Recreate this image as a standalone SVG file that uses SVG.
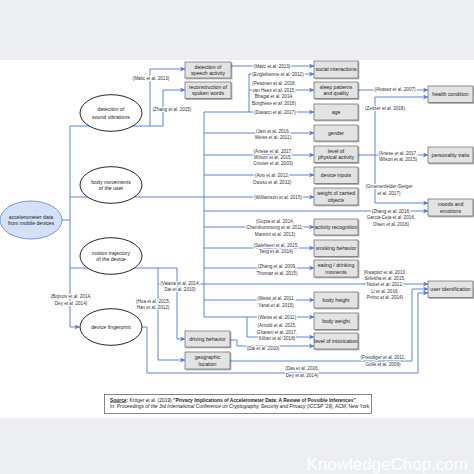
<svg xmlns="http://www.w3.org/2000/svg" width="474" height="474" viewBox="0 0 474 474">
<style>
.e{fill:none;stroke:#5b84e2;stroke-width:1}
.bx{fill:#e3e3e3;stroke:#666;stroke-width:0.7}
.el{fill:#fff;stroke:#111;stroke-width:0.9}
.l{font-family:"Liberation Sans",Arial,sans-serif;font-size:4.6px;fill:#333;text-anchor:middle;stroke:#fff;stroke-width:2.2px;paint-order:stroke;stroke-linejoin:round}
.t{font-family:"Liberation Sans",Arial,sans-serif;font-size:5.2px;fill:#222;text-anchor:middle}
.s{font-family:"Liberation Sans",Arial,sans-serif;font-size:4.9px;fill:#222}
</style>
<defs>
<marker id="a" viewBox="0 0 10 10" refX="10" refY="5" markerWidth="6" markerHeight="5" markerUnits="userSpaceOnUse" orient="auto"><path d="M0,0 L10,5 L0,10 L3,5 z" fill="#4a76e0"/></marker>
<filter id="sh" x="-10%" y="-10%" width="130%" height="140%"><feDropShadow dx="1" dy="1" stdDeviation="0.4" flood-color="#000" flood-opacity="0.35"/></filter>
</defs>
<rect x="0" y="0" width="474" height="474" fill="#eceef2"/>
<rect x="0" y="60" width="474" height="358" fill="#fff"/>
<text x="468" y="470" font-family="Liberation Sans,Arial,sans-serif" font-size="17" fill="#fff" text-anchor="end">KnowledgeChop.com</text>

<g id="connectors">
<path class="e" d="M62,220 H70"/>
<path class="e" d="M70,126 V327 H79.5" marker-end="url(#a)"/>
<path class="e" d="M70,126 H163"/>
<path class="e" d="M150,126 V69 H185" marker-end="url(#a)"/>
<path class="e" d="M163,126 V90 H185" marker-end="url(#a)"/>
<path class="e" d="M231,66 H314" marker-end="url(#a)"/>
<path class="e" d="M249,112 V74 H314" marker-end="url(#a)"/>
<path class="e" d="M249,90 H314" marker-end="url(#a)"/>
<path class="e" d="M70,197 H314" marker-end="url(#a)"/>
<path class="e" d="M204,112 V317"/>
<path class="e" d="M204,112 H314" marker-end="url(#a)"/>
<path class="e" d="M204,133 H314" marker-end="url(#a)"/>
<path class="e" d="M204,155 H314" marker-end="url(#a)"/>
<path class="e" d="M204,175 H314" marker-end="url(#a)"/>
<path class="e" d="M204,211 H428" marker-end="url(#a)"/>
<path class="e" d="M204,227 H314" marker-end="url(#a)"/>
<path class="e" d="M204,248 H314" marker-end="url(#a)"/>
<path class="e" d="M204,268 H314" marker-end="url(#a)"/>
<path class="e" d="M204,300 H314" marker-end="url(#a)"/>
<path class="e" d="M204,317 H314" marker-end="url(#a)"/>
<path class="e" d="M247,317 V337 H314" marker-end="url(#a)"/>
<path class="e" d="M70,268 H177 V339 H185" marker-end="url(#a)"/>
<path class="e" d="M158,268 V360 H185" marker-end="url(#a)"/>
<path class="e" d="M158,284 H428" marker-end="url(#a)"/>
<path class="e" d="M230,340 H237 V346 H314" marker-end="url(#a)"/>
<path class="e" d="M230,361 H412 V289 H428" marker-end="url(#a)"/>
<path class="e" d="M142,327 H147 V373 H418 V293 H428" marker-end="url(#a)"/>
<path class="e" d="M358,90 H428" marker-end="url(#a)"/>
<path class="e" d="M358,155 H428" marker-end="url(#a)"/>
<path class="e" d="M375,155 V97 H428" marker-end="url(#a)"/>
<path class="e" d="M375,155 V203 H428" marker-end="url(#a)"/>

<text class="l" x="151" y="79.5">(Matic et al. 2013)</text>
<text class="l" x="172" y="110.5">(Zhang et al. 2015)</text>
<text class="l" x="272" y="67.5">(Matic et al. 2013)</text>
<text class="l" x="278" y="75.8">(Englebienne et al. 2012)</text>
<text class="l" x="274" y="85"><tspan x="274">(Pesonen et al. 2018,</tspan><tspan x="274" dy="6.7">van Hees et al. 2015,</tspan><tspan x="274" dy="6.7">Bhagat et al. 2014,</tspan><tspan x="274" dy="6.7">Borghese et al. 2018)</tspan></text>
<text class="l" x="275" y="114">(Davarci et al. 2017)</text>
<text class="l" x="273" y="132.8"><tspan x="273">(Jain et al. 2016,</tspan><tspan x="273" dy="6.6">Weiss et al. 2011)</tspan></text>
<text class="l" x="273" y="152.5"><tspan x="273">(Artese et al. 2017,</tspan><tspan x="273" dy="6.4">Wilson et al. 2015,</tspan><tspan x="273" dy="6.4">Crouter et al. 2003)</tspan></text>
<text class="l" x="272" y="176.8"><tspan x="272">(Aviv et al. 2012,</tspan><tspan x="272" dy="6.7">Owusu et al. 2012)</tspan></text>
<text class="l" x="278" y="199">(Williamson et al. 2015)</text>
<text class="l" x="275" y="222.8"><tspan x="275">(Gupta et al. 2014,</tspan><tspan x="275" dy="6.6">Chernbumroong et al. 2011,</tspan><tspan x="275" dy="6.6">Mannini et al. 2013)</tspan></text>
<text class="l" x="276" y="246.8"><tspan x="276">(Saleheen et al. 2015,</tspan><tspan x="276" dy="5.8">Tang et al. 2014)</tspan></text>
<text class="l" x="277" y="267.8"><tspan x="277">(Zhang et al. 2009,</tspan><tspan x="277" dy="7">Thomaz et al. 2015)</tspan></text>
<text class="l" x="276" y="300"><tspan x="276">(Weiss et al. 2011,</tspan><tspan x="276" dy="6.8">Yanai et al. 2015)</tspan></text>
<text class="l" x="277" y="318.5">(Weiss et al. 2011)</text>
<text class="l" x="277" y="327"><tspan x="277">(Arnold et al. 2015,</tspan><tspan x="277" dy="6.7">Gharani et al. 2017,</tspan><tspan x="277" dy="6.7">Killian et al. 2018)</tspan></text>
<text class="l" x="263" y="349.8">(Dai et al. 2010)</text>
<text class="l" x="383" y="358.8"><tspan x="383">(Freudiger et al. 2011,</tspan><tspan x="383" dy="7">Golle et al. 2009)</tspan></text>
<text class="l" x="302" y="369.8"><tspan x="302">(Das et al. 2016,</tspan><tspan x="302" dy="6.7">Dey et al. 2014)</tspan></text>
<text class="l" x="180" y="284.5"><tspan x="180">(Vaiana et al. 2014,</tspan><tspan x="180" dy="6.6">Dai et al. 2010)</tspan></text>
<text class="l" x="153" y="302.5"><tspan x="153">(Hua et al. 2015,</tspan><tspan x="153" dy="6.6">Han et al. 2012)</tspan></text>
<text class="l" x="71" y="298"><tspan x="71">(Bojinov et al. 2014,</tspan><tspan x="71" dy="6.5">Dey et al. 2014)</tspan></text>
<text class="l" x="395" y="91">(Alvarez et al. 2007)</text>
<text class="l" x="385" y="110">(Zeitzer et al. 2018)</text>
<text class="l" x="398" y="155"><tspan x="398">(Artese et al. 2017,</tspan><tspan x="398" dy="5.6">Wilson et al. 2015)</tspan></text>
<text class="l" x="389" y="188"><tspan x="389">(Gruenenfelder-Steiger</tspan><tspan x="389" dy="7">et al. 2017)</tspan></text>
<text class="l" x="391" y="213"><tspan x="391">(Zhang et al. 2016,</tspan><tspan x="391" dy="6.3">Garcia-Ceja et al. 2016,</tspan><tspan x="391" dy="6.3">Olsen et al. 2016)</tspan></text>
<text class="l" x="385" y="274"><tspan x="385">(Kwapisz et al. 2010,</tspan><tspan x="385" dy="6.2">Srilekha et al. 2015,</tspan><tspan x="385" dy="6.2">Nickel et al. 2012,</tspan><tspan x="385" dy="6.2">Li et al. 2016,</tspan><tspan x="385" dy="6.2">Primo et al. 2014)</tspan></text>
</g>

<g id="n-main"><ellipse cx="31" cy="220" rx="31" ry="19" fill="#d3e0f7" stroke="#6b8ee3" stroke-width="0.9"/><text class="t" x="31" y="218.5">accelerometer data</text><text class="t" x="31" y="225">from mobile devices</text></g>
<g id="n-sound"><ellipse class="el" cx="111" cy="113" rx="31" ry="18.3"/><text class="t" x="111" y="111">detection of</text><text class="t" x="111" y="118.5">sound vibrations</text></g>
<g id="n-body"><ellipse class="el" cx="111" cy="185" rx="31" ry="18.3"/><text class="t" x="111" y="183.5">body movements</text><text class="t" x="111" y="190">of the user</text></g>
<g id="n-motion"><ellipse class="el" cx="111" cy="256" rx="31" ry="18.3"/><text class="t" x="111" y="254.5">motion trajectory</text><text class="t" x="111" y="261">of the device</text></g>
<g id="n-finger"><ellipse class="el" cx="111" cy="327" rx="31" ry="18.3"/><text class="t" x="111" y="329">device fingerprint</text></g>

<g id="n-speech"><rect class="bx" filter="url(#sh)" x="185" y="62" width="46" height="16"/><text class="t" x="208" y="68.5">detection of</text><text class="t" x="208" y="75">speech activity</text></g>
<g id="n-recon"><rect class="bx" filter="url(#sh)" x="185" y="82" width="46" height="16.5"/><text class="t" x="208" y="88.8">reconstruction of</text><text class="t" x="208" y="95.3">spoken words</text></g>
<g id="n-driving"><rect class="bx" filter="url(#sh)" x="185" y="331" width="45" height="16"/><text class="t" x="207.5" y="340.8">driving behavior</text></g>
<g id="n-geo"><rect class="bx" filter="url(#sh)" x="185" y="352" width="45" height="17"/><text class="t" x="207.5" y="359">geographic</text><text class="t" x="207.5" y="365.5">location</text></g>

<g id="n-social"><rect class="bx" filter="url(#sh)" x="314" y="61" width="44" height="17"/><text class="t" x="336" y="71.3">social interactions</text></g>
<g id="n-sleep"><rect class="bx" filter="url(#sh)" x="314" y="82" width="44" height="16.5"/><text class="t" x="336" y="88.8">sleep patterns</text><text class="t" x="336" y="95.3">and quality</text></g>
<g id="n-age"><rect class="bx" filter="url(#sh)" x="314" y="104" width="44" height="16"/><text class="t" x="336" y="113.8">age</text></g>
<g id="n-gender"><rect class="bx" filter="url(#sh)" x="314" y="125" width="44" height="16"/><text class="t" x="336" y="134.8">gender</text></g>
<g id="n-phys"><rect class="bx" filter="url(#sh)" x="314" y="146" width="44" height="16.5"/><text class="t" x="336" y="152.8">level of</text><text class="t" x="336" y="159.3">physical activity</text></g>
<g id="n-inputs"><rect class="bx" filter="url(#sh)" x="314" y="167" width="44" height="16.5"/><text class="t" x="336" y="177">device inputs</text></g>
<g id="n-carried"><rect class="bx" filter="url(#sh)" x="314" y="188" width="44" height="17"/><text class="t" x="336" y="195">weight of carried</text><text class="t" x="336" y="201.5">objects</text></g>
<g id="n-activity"><rect class="bx" filter="url(#sh)" x="314" y="219" width="44" height="16"/><text class="t" x="336" y="228.8">activity recognition</text></g>
<g id="n-smoking"><rect class="bx" filter="url(#sh)" x="314" y="240" width="44" height="16.5"/><text class="t" x="336" y="250">smoking behavior</text></g>
<g id="n-eating"><rect class="bx" filter="url(#sh)" x="314" y="260" width="44" height="17"/><text class="t" x="336" y="267">eating / drinking</text><text class="t" x="336" y="273.5">moments</text></g>
<g id="n-height"><rect class="bx" filter="url(#sh)" x="314" y="292" width="44" height="16"/><text class="t" x="336" y="301.8">body height</text></g>
<g id="n-weight"><rect class="bx" filter="url(#sh)" x="314" y="313" width="44" height="16.5"/><text class="t" x="336" y="323">body weight</text></g>
<g id="n-intox"><rect class="bx" filter="url(#sh)" x="314" y="333" width="44" height="16"/><text class="t" x="336" y="342.8">level of intoxication</text></g>

<g id="n-health"><rect class="bx" filter="url(#sh)" x="428" y="86" width="45" height="16.5"/><text class="t" x="450.5" y="96">health condition</text></g>
<g id="n-person"><rect class="bx" filter="url(#sh)" x="428" y="147" width="45" height="16"/><text class="t" x="450.5" y="156.8">personality traits</text></g>
<g id="n-moods"><rect class="bx" filter="url(#sh)" x="428" y="199" width="45" height="17"/><text class="t" x="450.5" y="206">moods and</text><text class="t" x="450.5" y="212.5">emotions</text></g>
<g id="n-userid"><rect class="bx" filter="url(#sh)" x="428" y="281" width="45" height="16.5"/><text class="t" x="450.5" y="291">user identification</text></g>

<g id="source">
<rect x="104.5" y="394.5" width="267" height="19" fill="#fff" stroke="#555" stroke-width="0.7"/>
<text class="s" x="110" y="401.5"><tspan font-weight="bold" text-decoration="underline">Source</tspan><tspan font-weight="bold">:</tspan> Kröger et al. (2019) <tspan font-weight="bold">"Privacy Implications of Accelerometer Data: A Review of Possible Inferences"</tspan></text>
<text class="s" x="110" y="408">In: <tspan font-style="italic">Proceedings of the 3rd International Conference on Cryptography, Security and Privacy (ICCSP '19)</tspan>, ACM, New York</text>
</g>
</svg>
